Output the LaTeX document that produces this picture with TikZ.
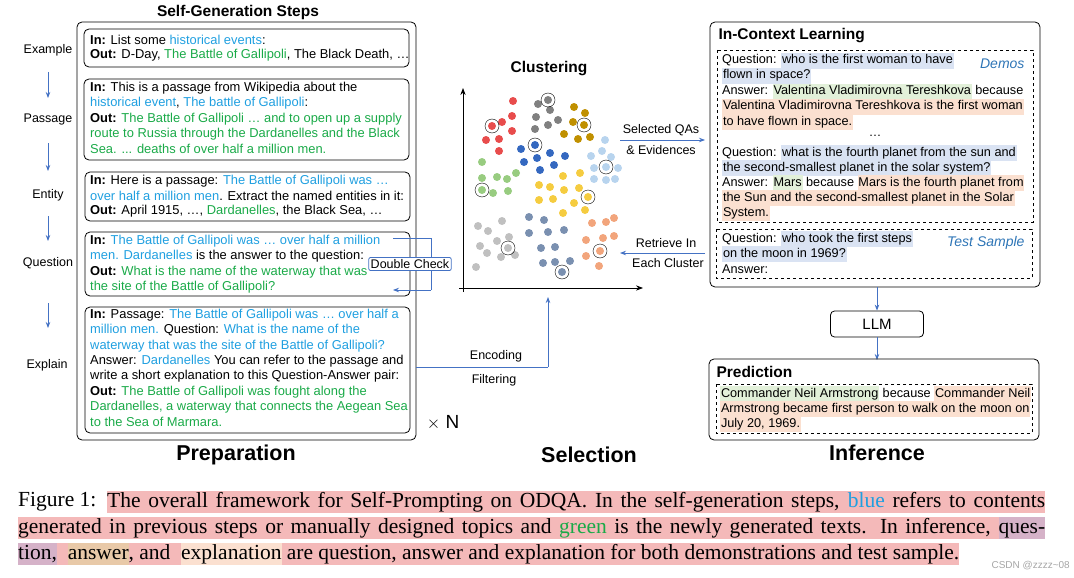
\documentclass[tikz,border=0pt]{standalone}
\usepackage{fontspec}
\setmainfont{Liberation Sans}
\newfontfamily\capfont{Liberation Serif}
\usetikzlibrary{arrows.meta}
\definecolor{tb}{HTML}{1F9FE0}
\definecolor{tg}{HTML}{1AAA48}
\definecolor{ab}{HTML}{4472C4}
\definecolor{dm}{HTML}{2E75B6}
\definecolor{hq}{HTML}{DAE3F3}
\definecolor{ha}{HTML}{E2F0D9}
\definecolor{he}{HTML}{FBE0D0}
\definecolor{hc}{HTML}{F4B9B9}
\definecolor{hp}{HTML}{D5B2C8}
\definecolor{ho}{HTML}{E8C9A8}
\definecolor{cr}{HTML}{E84C4C}
\definecolor{cd}{HTML}{808080}
\definecolor{cy}{HTML}{C09000}
\definecolor{cb}{HTML}{3468C0}
\definecolor{cl}{HTML}{B8D4EE}
\definecolor{cgn}{HTML}{98CC80}
\definecolor{cyl}{HTML}{F5CC40}
\definecolor{cgl}{HTML}{C0C0C0}
\definecolor{cs}{HTML}{7A90B0}
\definecolor{co}{HTML}{F2A57C}
\newcommand\tB[1]{\textcolor{tb}{#1}}
\newcommand\tG[1]{\textcolor{tg}{#1}}
\newcommand\hl[2]{{\setlength\fboxsep{0.8pt}\colorbox{#1}{\strut #2}}}
\newcommand\ch[2]{{\setlength\fboxsep{0pt}\colorbox{#1}{\rule[-6pt]{0pt}{22pt}#2}}}
\tikzset{
  ln/.style={anchor=west, inner sep=0pt, font=\fontsize{12.9}{15}\selectfont},
  rl/.style={anchor=west, inner sep=0pt, font=\fontsize{12.7}{15}\selectfont},
  box/.style={draw, rounded corners=5pt, thick},
  dbox/.style={draw, dashed, thick},
  arr/.style={-{Stealth[length=6pt]}, ab, thick},
  ttl/.style={font=\bfseries\fontsize{21.5}{24}\selectfont},
  sub/.style={font=\bfseries\fontsize{15.5}{18}\selectfont},
  stp/.style={font=\fontsize{12.5}{15}\selectfont},
  cpt/.style={anchor=west, inner sep=0pt, font=\capfont\fontsize{21.5}{24}\selectfont},
  dot/.style={circle, inner sep=0pt, minimum size=8pt},
  ring/.style={circle, draw, inner sep=0pt, minimum size=14pt, thin}
}
\begin{document}
\begin{tikzpicture}[x=1pt,y=-1pt]
\useasboundingbox (0,0) rectangle (1074,578);

% ---- Preparation ----
\node[sub] (sgs) at (238,12) {Self-Generation Steps};
\draw[box] (77,22) rectangle (416,440);
\draw[box] (84,29) rectangle (409,67);
\draw[box] (84,79) rectangle (409,160);
\draw[box] (85,172) rectangle (410,221);
\draw[box] (85,232) rectangle (410,296);
\draw[box] (85,307) rectangle (410,433);

\node[ln] (a1) at (90,40) {\textbf{In:} List some \tB{historical events}:};
\node[ln] (a2) at (90,55) {\textbf{Out:} D-Day, \tG{The Battle of Gallipoli}, The Black Death, \dots};
\node[ln] (b1) at (90,88) {\textbf{In:} This is a passage from Wikipedia about the};
\node[ln] (b2) at (90,103) {\tB{historical event}, \tB{The battle of Gallipoli}:};
\node[ln] (b3) at (90,119) {\textbf{Out:} \tG{The Battle of Gallipoli \dots\ and to open up a supply}};
\node[ln] (b4) at (90,134) {\tG{route to Russia through the Dardanelles and the Black}};
\node[ln] (b5) at (90,149) {\tG{Sea. ... deaths of over half a million men.}};
\node[ln] (c1) at (90,181) {\textbf{In:} Here is a passage: \tB{The Battle of Gallipoli was \dots}};
\node[ln] (c2) at (90,196) {\tB{over half a million men}. Extract the named entities in it:};
\node[ln] (c3) at (90,211) {\textbf{Out:} April 1915, \dots, \tG{Dardanelles}, the Black Sea, \dots};
\node[ln] (d1) at (90,241) {\textbf{In:} \tB{The Battle of Gallipoli was \dots\ over half a million}};
\node[ln] (d2) at (90,256) {\tB{men. Dardanelles} is the answer to the question:};
\node[ln] (d3) at (90,272) {\textbf{Out:} \tG{What is the name of the waterway that was}};
\node[ln] (d4) at (90,287) {\tG{the site of the Battle of Gallipoli?}};
\node[ln] (e1) at (90,315) {\textbf{In:} Passage: \tB{The Battle of Gallipoli was \dots\ over half a}};
\node[ln] (e2) at (90,330) {\tB{million men.} Question: \tB{What is the name of the}};
\node[ln] (e3) at (90,346) {\tB{waterway that was the site of the Battle of Gallipoli?}};
\node[ln] (e4) at (90,361) {Answer: \tB{Dardanelles} You can refer to the passage and};
\node[ln] (e5) at (90,376) {write a short explanation to this Question-Answer pair:};
\node[ln] (e6) at (90,392) {\textbf{Out:} \tG{The Battle of Gallipoli was fought along the}};
\node[ln] (e7) at (90,407) {\tG{Dardanelles, a waterway that connects the Aegean Sea}};
\node[ln] (e8) at (90,422) {\tG{to the Sea of Marmara.}};

\node[stp] (sEx) at (48,50) {Example};
\node[stp] (sPa) at (48,119) {Passage};
\node[stp] (sEn) at (48,195) {Entity};
\node[stp] (sQu) at (48,263) {Question};
\node[stp] (sEp) at (47,365) {Explain};
\draw[arr] (sEx) ++(0,22) -- ++(0,26);
\draw[arr] (sPa) ++(0,24) -- ++(0,28);
\draw[arr] (sEn) ++(0,21) -- ++(0,25);
\draw[arr] (sQu) ++(0,40) -- ++(0,25);

\coordinate (dcA) at (393,238);
\coordinate (dcB) at (393,290);
\draw[ab, thick] (dcA) -- (431,238) -- (431,290);
\draw[arr] (431,290) -- (dcB);
\node[draw=ab, thick, fill=white, rounded corners=2pt, inner sep=2pt, stp] (dc) at (410,264) {Double Check};
\node[font=\fontsize{19}{21}\selectfont] (xn) at (443,423) {$\times$ N};
\node[ttl] (prep) at (236,455) {Preparation};

% ---- Selection ----
\node[sub] (clu) at (549,69) {Clustering};
\draw[-{Stealth[length=7pt]}, thick] (463,292) -- (463,88);
\draw[-{Stealth[length=7pt]}, thick] (459,288) -- (643,288);
\foreach \c/\pts in {
  cr/{513/101,512/116,512/131,486/140,499/139,499/151,502/122},
  cd/{538/104,550/110,536/117,558/120,548/125,535/129},
  cy/{574/107,585/113,573/122,564/134,578/139,590/137},
  cb/{521/149,537/158,550/153,565/156,524/162,554/165,540/170},
  cl/{605/140,602/151,611/157,591/156,594/168,618/168,594/179,606/180,615/179},
  cgn/{482/162,482/178,497/177,507/179,516/173,493/193,508/191},
  cyl/{563/176,580/173,539/185,550/187,564/190,579/188,539/200,553/199,574/203,585/210,563/213},
  cgl/{478/226,502/221,488/231,509/237,497/241,480/246,487/253,501/257,515/255,476/267},
  cs/{529/217,544/220,564/230,529/233,548/232,541/248,555/247,543/263,555/262,570/261},
  co/{592/223,606/222,614/218,603/238,614/236,586/240,586/256,599/266}}
  \foreach \x/\y in \pts \node[dot, fill=\c] at (\x,\y) {};
\foreach \c/\x/\y in {cr/492/126,cd/548/100,cy/584/125,cb/535/145,cl/606/167,cgn/482/190,cyl/588/197,cgl/508/248,cs/562/272,co/600/251}
  {\node[dot, fill=\c] at (\x,\y) {}; \node[ring] at (\x,\y) {};}

\node[stp] (sq1) at (661,130) {Selected QAs};
\node[stp] (sq2) at (661,150) {\& Evidences};
\node[stp] (rt1) at (666,243) {Retrieve In};
\node[stp] (rt2) at (668,263) {Each Cluster};
\coordinate (sqL) at (620,140);
\coordinate (rtR) at (705,253);
\draw[arr] (sqL) -- (705,140);
\draw[arr] (rtR) -- (620,253);
\coordinate (enc) at (416,367);
\draw[ab, thick] (enc) -- (548,367);
\draw[arr] (548,367) -- (548,297);
\node[stp] (en) at (496,356) {Encoding};
\node[stp] (fi) at (494,380) {Filtering};
\node[ttl] (sel) at (589,455) {Selection};

% ---- Inference ----
\draw[box] (710,22) rectangle (1040,287);
\node[anchor=west, sub] (icl) at (715,36) {In-Context Learning};
\draw[dbox] (717,50) rectangle (1033,222);
\draw[dbox] (716,229) rectangle (1032,278);
\node[anchor=east, font=\itshape\fontsize{14}{16}\selectfont, text=dm] (dem) at (1028,64) {Demos};
\node[anchor=east, font=\itshape\fontsize{14}{16}\selectfont, text=dm] (tsm) at (1028,243) {Test Sample};
\node[rl] (r1) at (722,61) {Question: \hl{hq}{who is the first woman to have}};
\node[rl] (r2) at (722,76) {\hl{hq}{flown in space?}};
\node[rl] (r3) at (722,92) {Answer: \hl{ha}{Valentina Vladimirovna Tereshkova} because};
\node[rl] (r4) at (722,107) {\hl{he}{Valentina Vladimirovna Tereshkova is the first woman}};
\node[rl] (r5) at (722,122) {\hl{he}{to have flown in space.}};
\node[stp] (dts) at (875,136) {\dots};
\node[rl] (r6) at (722,153) {Question: \hl{hq}{what is the fourth planet from the sun and}};
\node[rl] (r7) at (722,168) {\hl{hq}{the second-smallest planet in the solar system?}};
\node[rl] (r8) at (722,183) {Answer: \hl{ha}{Mars} because \hl{he}{Mars is the fourth planet from}};
\node[rl] (r9) at (722,198) {\hl{he}{the Sun and the second-smallest planet in the Solar}};
\node[rl] (r10) at (722,213) {\hl{he}{System.}};
\node[rl] (t1) at (722,239) {Question: \hl{hq}{who took the first steps}};
\node[rl] (t2) at (722,254) {\hl{hq}{on the moon in 1969?}};
\node[rl] (t3) at (722,269) {Answer:};

\node[draw, rounded corners=4pt, thick, minimum width=93pt, minimum height=26pt, font=\fontsize{15}{17}\selectfont] (llm) at (877,324) {LLM};
\coordinate (iclB) at (877,287);
\coordinate (prT) at (877,360);
\draw[arr] (iclB) -- (llm);
\draw[arr] (llm) -- (prT);
\draw[box] (709,359) rectangle (1039,440);
\node[anchor=west, sub] (pred) at (713,372) {Prediction};
\draw[dbox] (716,384) rectangle (1032,433);
\node[rl] (p1) at (720,394) {\hl{ha}{Commander Neil Armstrong} because \hl{he}{Commander Neil}};
\node[rl] (p2) at (720,409) {\hl{he}{Armstrong became first person to walk on the moon on}};
\node[rl] (p3) at (720,424) {\hl{he}{July 20, 1969.}};
\node[ttl] (inf) at (877,453) {Inference};

% ---- caption ----
\node[cpt] (fig) at (18,502) {Figure 1:};
\node[cpt] (cap1) at (107,502)
  {\ch{hc}{\makebox[938pt][s]{The overall framework for Self-Prompting on ODQA. In the self-generation steps, \textcolor{tb}{blue} refers to contents}}};
\node[cpt] (cap2) at (18,528)
  {\ch{hc}{\makebox[1027pt][s]{generated in previous steps or manually designed topics and \textcolor{tg}{green} is the newly generated texts. In inference, \ch{hp}{ques-}}}};
\node[cpt] (cap3) at (18,554)
  {\ch{hp}{tion,}\ch{hc}{\ \ }\ch{ho}{answer}\ch{hc}{, and\ \ }\ch{he}{explanation}\ch{hc}{\ are question, answer and explanation for both demonstrations and test sample.}};
\node[anchor=east, inner sep=0pt, text=gray!70, font=\fontsize{10}{11}\selectfont] (wm) at (1070,566) {CSDN @zzzz\textasciitilde08};
\end{tikzpicture}
\end{document}
